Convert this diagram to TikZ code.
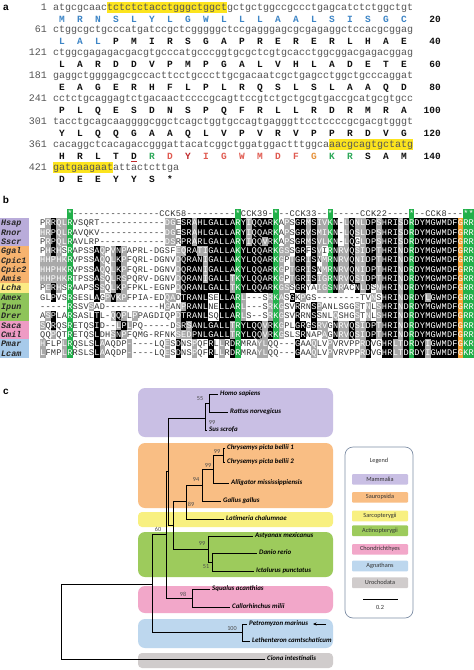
\documentclass[tikz,border=0pt]{standalone}
\usepackage{fontspec}
\setmonofont{Liberation Mono}
\setsansfont{Liberation Sans}
\newfontfamily\carl{Carlito}
\usetikzlibrary{arrows.meta,calc}
\definecolor{ntgray}{HTML}{555555}
\definecolor{aablack}{HTML}{111111}
\definecolor{aablue}{HTML}{3D85C6}
\definecolor{aared}{HTML}{E05A50}
\definecolor{aadred}{HTML}{C0282A}
\definecolor{aagreen}{HTML}{2EA95A}
\definecolor{aaorange}{HTML}{E69138}
\definecolor{hlyellow}{HTML}{FCE41E}
\definecolor{alblack}{HTML}{000000}
\definecolor{algray}{HTML}{A9A9A9}
\definecolor{algreen}{HTML}{22B04A}
\definecolor{alorange}{HTML}{F5A033}
\definecolor{alwtext}{HTML}{333333}
\definecolor{lpur}{HTML}{B9ACDA}
\definecolor{lora}{HTML}{F7B36E}
\definecolor{lyel}{HTML}{FBEA84}
\definecolor{lgrn}{HTML}{8EC45A}
\definecolor{lpnk}{HTML}{EE9BC4}
\definecolor{lblu}{HTML}{A7CAEA}
\definecolor{bpur}{HTML}{C9BFE4}
\definecolor{bora}{HTML}{F9BE84}
\definecolor{byel}{HTML}{F8F080}
\definecolor{bgrn}{HTML}{9DCB5C}
\definecolor{bpnk}{HTML}{F2A7C9}
\definecolor{bblu}{HTML}{BDD7EE}
\definecolor{bgry}{HTML}{D0CCCC}
\definecolor{legframe}{HTML}{7F8FA6}
\makeatletter
\newcount\alcol
\def\alpop{\expandafter\alpopi\alshades\@nil}
\def\alpopi#1#2\@nil{\def\alcur{#1}\def\alshades{#2}}
\newcommand\alrowdraw[3]{\def\aly{#1}\alcol=0 \edef\alshades{#3wwwwww}\alparse#2\relax}
\def\alparse#1{\ifx#1\relax\else\alpop\alcell{#1}\advance\alcol by 1 \expandafter\alparse\fi}
\def\alcell#1{%
  \pgfmathsetmacro\alx{40+5.425*\the\alcol}%
  \def\altc{alwtext}%
  \if b\alcur \fill[alblack] (\alx,\aly-4.65) rectangle ++(5.5,9.4);\def\altc{white}\fi
  \if g\alcur \fill[algray] (\alx,\aly-4.65) rectangle ++(5.5,9.4);\def\altc{white}\fi
  \if G\alcur \fill[algreen] (\alx,\aly-4.65) rectangle ++(5.5,9.4);\def\altc{white}\fi
  \if o\alcur \fill[alorange] (\alx,\aly-4.65) rectangle ++(5.5,9.4);\def\altc{white}\fi
  \if .#1\else\node[alch,text=\altc] at (\alx+2.71,\aly) {#1};\fi
}
\makeatother
\newcommand\aaplain[2]{\foreach \c [count=\i from 0] in {#2} {\node[aa] at ({62+18*\i},#1) {\c};}}
\newcommand\aacol[2]{\foreach \c/\cl [count=\i from 0] in {#2} {\node[aa,text=\cl] at ({62+18*\i},#1) {\c};}}
\begin{document}
\begin{tikzpicture}[x=1pt,y=-1pt,
  nt/.style={anchor=base west, inner sep=0, font=\ttfamily\fontsize{10}{10}\selectfont, text=ntgray},
  ntn/.style={anchor=base east, inner sep=0, font=\ttfamily\fontsize{10}{10}\selectfont, text=ntgray},
  aa/.style={anchor=base, inner sep=0, font=\ttfamily\bfseries\fontsize{9.5}{10}\selectfont, text=aablack},
  aan/.style={anchor=base east, inner sep=0, font=\ttfamily\bfseries\fontsize{9.5}{10}\selectfont, text=aablack},
  alch/.style={inner sep=0, anchor=center, text height=5.4pt, text depth=0pt, font=\ttfamily\fontsize{8.6}{9}\selectfont},
  splab/.style={anchor=west, inner sep=0, text height=5.6pt, text depth=0pt, font=\ttfamily\bfseries\itshape\fontsize{8.4}{9}\selectfont, text=black!85},
  leaf/.style={anchor=west, inner xsep=2pt, inner ysep=0pt, text height=5pt, text depth=1.4pt, font=\carl\bfseries\itshape\fontsize{6.9}{8}\selectfont},
  bs/.style={inner sep=0, font=\carl\fontsize{6.2}{7}\selectfont, text=black!70},
  br/.style={line width=0.8pt},
  plab/.style={inner sep=0, font=\sffamily\bfseries\fontsize{10}{10}\selectfont},
  leg/.style={inner sep=0, font=\carl\fontsize{6.3}{7}\selectfont, text=black!80},
  legbar/.style={rounded corners=1pt},
  hl/.style={fill=hlyellow}]
\useasboundingbox (0,0) rectangle (474,670);
\fill[white] (0,0) rectangle (474,670);
% panel labels
\node[plab] (la) at (6,8) {a};
\node[plab] (lb) at (6,200) {b};
\node[plab] (lc) at (6,392) {c};
% ---------------- panel a ----------------
\fill[hl] (107,2) rectangle (227,12.6);
\fill[hl] (329,139.4) rectangle (413,150);
\fill[hl] (53,162.3) rectangle (113,172.9);
\node[ntn] (na0) at (47,10) {1};
\node[nt] (sa0) at (53,10) {atgcgcaactctctctacctgggctggctgctgctggccgccctgagcatctctggctgt};
\node[ntn] (na1) at (47,32.9) {61};
\node[nt] (sa1) at (53,32.9) {ctggcgctgcccatgatccgctcgggggctccgagggagcgcgagaggctccacgcggag};
\node[ntn] (na2) at (47,55.8) {121};
\node[nt] (sa2) at (53,55.8) {ctggcgagagacgacgtgcccatgcccggtgcgctcgtgcacctggcggacgagacggag};
\node[ntn] (na3) at (47,78.7) {181};
\node[nt] (sa3) at (53,78.7) {gaggctggggagcgccacttcctgcccttgcgacaatcgctgagcctggctgcccaggat};
\node[ntn] (na4) at (47,101.6) {241};
\node[nt] (sa4) at (53,101.6) {cctctgcaggagtctgacaactccccgcagttccgtctgctgcgtgaccgcatgcgtgcc};
\node[ntn] (na5) at (47,124.5) {301};
\node[nt] (sa5) at (53,124.5) {tacctgcagcaaggggcggctcagctggtgccagtgagggttcctccccgcgacgtgggt};
\node[ntn] (na6) at (47,147.4) {361};
\node[nt] (sa6) at (53,147.4) {cacaggctcacagaccgggattacatcggctggatggactttggcaaacgcagtgctatg};
\node[ntn] (na7) at (47,170.3) {421};
\node[nt] (sa7) at (53,170.3) {gatgaagaatattactcttga};
% amino acids
\aacol{22}{M/aablue,R/aablue,N/aablue,S/aablue,L/aablue,Y/aablue,L/aablue,G/aablue,W/aablue,L/aablue,L/aablue,L/aablue,A/aablue,A/aablue,L/aablue,S/aablue,I/aablue,S/aablue,G/aablue,C/aablue}
\aacol{44.9}{L/aablue,A/aablue,L/aablue,P/aablack,M/aablack,I/aablack,R/aablack,S/aablack,G/aablack,A/aablack,P/aablack,R/aablack,E/aablack,R/aablack,E/aablack,R/aablack,L/aablack,H/aablack,A/aablack,E/aablack}
\aaplain{67.8}{L,A,R,D,D,V,P,M,P,G,A,L,V,H,L,A,D,E,T,E}
\aaplain{90.7}{E,A,G,E,R,H,F,L,P,L,R,Q,S,L,S,L,A,A,Q,D}
\aaplain{113.6}{P,L,Q,E,S,D,N,S,P,Q,F,R,L,L,R,D,R,M,R,A}
\aaplain{136.5}{Y,L,Q,Q,G,A,A,Q,L,V,P,V,R,V,P,P,R,D,V,G}
\aacol{159.4}{H/aablack,R/aablack,L/aablack,T/aablack,D/aablack,R/aagreen,D/aared,Y/aadred,I/aared,G/aared,W/aared,M/aared,D/aared,F/aared,G/aaorange,K/aagreen,R/aagreen,S/aablack,A/aablack,M/aablack}
\draw[aadred, line width=0.8pt] (131,161.2) -- (137,161.2);
\aaplain{182.3}{D,E,E,Y,Y,S,*}
\node[aan] (r1) at (441,22) {20};
\node[aan] (r2) at (441,44.9) {40};
\node[aan] (r3) at (441,67.8) {60};
\node[aan] (r4) at (441,90.7) {80};
\node[aan] (r5) at (441,113.6) {100};
\node[aan] (r6) at (441,136.5) {120};
\node[aan] (r7) at (441,159.4) {140};
% ---------------- panel b ----------------
\foreach \nm/\cl [count=\i from 0] in {Hsap/lpur,Rnor/lpur,Sscr/lpur,Ggal/lora,Cpic1/lora,Cpic2/lora,Amis/lora,Lcha/lyel,Amex/lgrn,Ipun/lgrn,Drer/lgrn,Saca/lpnk,Cmil/lpnk,Pmar/lblu,Lcam/lblu} {
  \fill[\cl] (0,{223+9.3*\i-4.65}) rectangle (29,{223+9.3*\i+4.75});
  \node[splab] (sp\i) at (1,{223+9.3*\i}) {\nm};
}
\alrowdraw{213.7}{.....*----------------CCK58---------*CCK39-*--CCK33--*-----CCK22----*--CCK8---**}{wwwwwG wwwwwwwwwwwwwwwwwwwwwwwwwwwwww G wwwwww G wwwwwwwww G wwwwwwwwwwwwww G wwwwwwwww GG}
\alrowdraw{223}{PRRQLR VSQRT---------- --DGESRAHLGALLAR YIQQARK APSGRMSIVK N-LQNLDPSHRISD R DYMGWMDF GRR}{wgbggG wwwwwwwwwwwwwww wwggwbbgbbbbbbbG bgbbbbG wgwbbgbggG bwgbggbbgbbbgb G bbbbbbbb oGG}
\alrowdraw{232.3}{HRPQLR AVQKV---------- --DGESRAHLGALLAR YIQQARK APSGRVSMIK N-LQSLDPSHRISD R DYMGWMDF GRR}{ggbggG wwwwwwwwwwwwwww wwggwbbgbbbbbbbG bgbbbbG wgwbbgbggG bwgbggbbgbbbgb G bbbbbbbb oGG}
\alrowdraw{241.6}{PRPQLR AVLRP---------- --DSRPRARLGALLAR YIQQVRK APSGRMSVLK N-LQGLDPSHRISD R DYMGWMDF GRR}{wgbggG wwwwwwwwwwwwwww wwggwbbgbbbbbbbG bgbbgbG wgwbbgbggG bwgbwgbbgbbbgb G bbbbbbbb oGG}
\alrowdraw{250.9}{PHRHSR APSSAQPVNPAPRL- DGSFEQRATIGALLAK YLQQARK GSSGRFSVIR NRVQSIDPTHRIND R DYMGWMDF GRR}{wgbgwG wwwwbgwgbgwwwww wwwwggbbggbbbbbG bbbbbbG ggwbbwbgwG bggbggbbgbbbgb G bbbbbbbb oGG}
\alrowdraw{260.2}{HHPHKR VPSSAQQLKPFQRL- DGNVDQRANIGALLAK YLQQARK GPTGRISNMR NRVQNIDPTHRIND R DYMGWMDF GRR}{gggggG wwwwbgwgbgwwwww wwwwgbbbbgbbbbbG bbbbbbG gwgbbgbwgG bggbggbbgbbbgb G bbbbbbbb oGG}
\alrowdraw{269.5}{HHPHKR VPSSAQQLKPFQRL- DGNVDQRANIGALLAK YLQQARK GPTGRISNMR NRVQNIDPTHRIND R DYMGWMDF GRR}{gggggG wwwwbgwgbgwwwww wwwwgbbbbgbbbbbG bbbbbbG gwgbbgbwgG bggbggbbgbbbgb G bbbbbbbb oGG}
\alrowdraw{278.8}{HHPHKR TPSSASQLRSPQRV- DGNVDQRANIGALLTK YLQQARK GPTGRISIGR NRVQSIDPTHRIND R DYMGWMDF GRR}{gggggG wwwwbgwgbgwwwww wwwwgbbbbgbbbbgG bbbbbbG gwgbbgbggG bggbggbbgbbbgb G bbbbbbbb oGG}
\alrowdraw{288.1}{PERHSR AAPSSSQLKPFPKL- EGNPDQRANLGALLTK YLQQARK GSSGRYAIGS NRACNLDSNHRIND R DYMGWMDF GRR}{wgbgwG wwwwbgwgbgwwwww wwwwgbbbbbbbbbgG bbbbbbG ggwbbwwggG bgwwbgbwgbbbgb G bbbbbbbb oGG}
\alrowdraw{297.4}{GLPVSR SESLAGPVKPFPIA- EDQADTRANLSELLAR L---SRK ASGKPGS--- -----TVNSHRIND R DYLGWMDF GRR}{wwbwwG wwwwbwgbggwwwww wwggwbbbbbwwbbbG gwwwwgG gwbwgwwwww wwwwwwwgwbbbgb G bbgbbbbb oGG}
\alrowdraw{306.7}{-----R SSVSAD--------- -HGANPRANLNELLAR L---SRK GSVRRNSPAN LSGGSTNLSHRIND R DYMGWMDF GRR}{wwwwwG wwwgwwwwwwwwwww wwgwwgbbbbwwbbbG gwwwwgG gwwbwwbgww wwwwgwgwgbbbgb G bbbbbbbb oGG}
\alrowdraw{316}{ASPLAR SASLTL-QQPLPPAG DIQPDTRANLSQLLAR LS--SRK GSVRRNSSNL QSHGSTNLSHRIND R DYMGWMDF GRR}{wgbwwG wwwwbwwgbgwgwww wwwwgbbbbbwwbbbG gwwwwgG gwwbwwbwww gwwwgwgwgbbbgb G bbbbbbbb oGG}
\alrowdraw{325.3}{SQRQSR ETQSID--LPLPQ-- ---DSRSANLGALLTR YLQQVRK GPLGRGSRVG NRVQSIDPTHRIND R DYMGWMDF GRR}{gwbwwG wwwwbwwwgbgwwww wwwwgbgbbbbbbbgG bbbbgbG gwwbbwbggw bggbggbbgbbbgb G bbbbbbbb oGG}
\alrowdraw{334.6}{QQPQTR ETQSLDHSNPFQMG- RFNKSEDPNLGALLTR YLQQVRK GSLSRNAPAG NRVQSIDPTHRIND R DYMGWMDF GRR}{wwgwwG wwwwbwwgbgwwwww wwwwgggbbbbbbbgG bbbbgbG gwwwbwwwgw bggbggbbgbbbgb G bbbbbbbb oGG}
\alrowdraw{343.9}{HFLPLR QSLSLAAQDP----- LQESDNSPQFRLLRDR MRAYLQQ ---GAAQLVP VRVPPRDVGHRLTD R DYIGWMDF GKR}{gwwwgG wwwwbgwwwwgwwww wwgwbwwgwwbwgwbG wwwggww wwwbwwgwwg wwwwwgbwwbbggb G bbgbbbbb oGG}
\alrowdraw{353.2}{LFMPLR RSLSLAAQDP----- LQESDNSPQFRLLRDR MRAYLQQ ---GAAQLVP VRVPPRDVGHRLTD R DYIGWMDF GKR}{gwwwgG wwwwbgwwwwgwwww wwgwbwwgwwbwgwbG wwwggww wwwbwwgwwg wwwwwgbwwbbggb G bbgbbbbb oGG}
% ---------------- panel c ----------------
\fill[bpur, rounded corners=7pt] (138,388) rectangle (333,437);
\fill[bora, rounded corners=7pt] (138,443) rectangle (333,508);
\fill[byel, rounded corners=4pt] (138,512) rectangle (333,527);
\fill[bgrn, rounded corners=7pt] (138,532) rectangle (333,577);
\fill[bpnk, rounded corners=7pt] (138,586) rectangle (333,613);
\fill[bblu, rounded corners=7pt] (138,619) rectangle (333,648);
\fill[bgry, rounded corners=4pt] (138,653) rectangle (333,668);
% leaves
\node[leaf] (homo) at (218,394) {Homo sapiens};
\node[leaf] (rattus) at (228,412) {Rattus norvegicus};
\node[leaf] (sus) at (207,430) {Sus scrofa};
\node[leaf] (chr1) at (225,448) {Chrysemys picta bellii 1};
\node[leaf] (chr2) at (225,462) {Chrysemys picta bellii 2};
\node[leaf] (alli) at (229,483) {Alligator mississippiensis};
\node[leaf] (gallus) at (221,501) {Gallus gallus};
\node[leaf] (lat) at (224,519) {Latimeria chalumnae};
\node[leaf] (asty) at (253,536) {Astyanax mexicanus};
\node[leaf] (danio) at (257,553) {Danio rerio};
\node[leaf] (icta) at (254,571) {Ictalurus punctatus};
\node[leaf] (squalus) at (210,589) {Squalus acanthias};
\node[leaf] (callo) at (230,607) {Callorhinchus milii};
\node[leaf] (petro) at (247,624) {Petromyzon marinus};
\node[leaf] (lethen) at (250,641) {Lethenteron camtschaticum};
\node[leaf] (ciona) at (265,659) {Ciona intestinalis};
% internal nodes
\coordinate (nroot) at (61,621);
\coordinate (n60) at (152,584);
\coordinate (n166) at (166,534);
\coordinate (nlamp) at (242,632.5);
\coordinate (n168) at (168,471.5);
\coordinate (nchon) at (192,598);
\coordinate (nmam) at (205,418);
\coordinate (nHR) at (209,403);
\coordinate (n173) at (173,525);
\coordinate (n186) at (186,501.5);
\coordinate (nsau) at (202,485);
\coordinate (n213) at (213,469);
\coordinate (nturt) at (223,455);
\coordinate (nact) at (208,549);
\coordinate (nDI) at (212,562);
\draw[br] (nroot) |- (n60);
\draw[br] (nroot) |- (ciona.west);
\draw[br] (n60) |- (n166);
\draw[br] (n60) |- (nlamp);
\draw[br] (n166) |- (n168);
\draw[br] (n166) |- (nchon);
\draw[br] (n168) |- (nmam);
\draw[br] (n168) |- (n173);
\draw[br] (nmam) |- (nHR);
\draw[br] (nmam) |- (sus.west);
\draw[br] (nHR) |- (homo.west);
\draw[br] (nHR) |- (rattus.west);
\draw[br] (n173) |- (n186);
\draw[br] (n173) |- (nact);
\draw[br] (n186) |- (nsau);
\draw[br] (n186) |- (lat.west);
\draw[br] (nsau) |- (n213);
\draw[br] (nsau) |- (gallus.west);
\draw[br] (n213) |- (nturt);
\draw[br] (n213) |- (alli.west);
\draw[br] (nturt) |- (chr1.west);
\draw[br] (nturt) |- (chr2.west);
\draw[br] (nact) |- (asty.west);
\draw[br] (nact) |- (nDI);
\draw[br] (nDI) |- (danio.west);
\draw[br] (nDI) |- (icta.west);
\draw[br] (nchon) |- (squalus.west);
\draw[br] (nchon) |- (callo.west);
\draw[br] (nlamp) |- (petro.west);
\draw[br] (nlamp) |- (lethen.west);
% bootstrap values
\node[bs] (b55) at (200,399) {55};
\node[bs] (b99a) at (212,422) {99};
\node[bs] (b99b) at (217,451) {99};
\node[bs] (b99c) at (208,465) {99};
\node[bs] (b94) at (196,479) {94};
\node[bs] (b89) at (191,504) {89};
\node[bs] (b60) at (158,529) {60};
\node[bs] (b99d) at (202,543) {99};
\node[bs] (b51) at (206,567) {51};
\node[bs] (b98) at (183,594) {98};
\node[bs] (b100) at (232,629) {100};
% arrow to Petromyzon
\coordinate (arrT) at (326,624);
\coordinate (arrH) at (313,624);
\draw[line width=0.8pt, -{Stealth[length=3.5pt,width=3pt]}] (arrT) -- (arrH);
% legend
\draw[legframe, line width=0.7pt, rounded corners=8pt] (345,447) rectangle (413,618);
\node[leg] (legt) at (379,461) {Legend};
\foreach \nm/\cl/\yy in {Mammalia/bpur/479.3,Sauropsida/bora/497.3,Sarcopterygii/byel/516,Actinopterygii/bgrn/530.7,Chondrichthyes/bpnk/549.3,Agnathans/bblu/566,Urochodata/bgry/582.7} {
  \fill[\cl, legbar] (352,{\yy-5.3}) rectangle (408,{\yy+5.3});
  \node[leg] (lg\nm) at (380,\yy) {\nm};
}
\coordinate (sbL) at (363,599);
\coordinate (sbR) at (398,599);
\draw[line width=0.8pt] (sbL) -- (sbR);
\node[leg] (sbt) at (380,607) {0.2};
\end{tikzpicture}
\end{document}
